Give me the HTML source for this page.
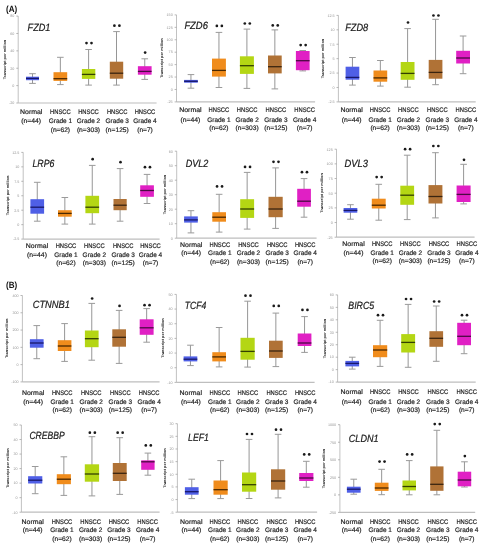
<!DOCTYPE html>
<html><head><meta charset="utf-8"><style>
html,body{margin:0;padding:0;background:#fff;}
svg{display:block;will-change:transform;}
text{font-family:"Liberation Sans", sans-serif;text-rendering:geometricPrecision;}
.ax{stroke:#a8a8a8;stroke-width:0.7;}
.xa{stroke:#bebebe;stroke-width:1.2;}
.tk{stroke:#999;stroke-width:0.7;}
.tl{font-size:3.7px;fill:#969696;text-anchor:end;}
.yl{font-size:3.6px;fill:#222;font-weight:bold;text-anchor:middle;}
.ti{font-size:10.5px;font-style:italic;fill:#1a1a1a;stroke:#111;stroke-width:0.2;}
.wh{stroke:#8a8a8a;stroke-width:0.9;}
.wc{stroke:#9a9a9a;stroke-width:1.0;}
.md{stroke-width:1.3;}
.st{fill:#1a1a1a;}
.xl{font-size:6.6px;fill:#262626;text-anchor:middle;stroke:#262626;stroke-width:0.2;}
.pl{font-size:9px;font-weight:bold;fill:#111;}
</style></head><body>
<svg width="482" height="550" viewBox="0 0 482 550">
<rect width="482" height="550" fill="#fff"/>
<text x="6.1" y="12.4" class="pl" textLength="11.2" lengthAdjust="spacingAndGlyphs">(A)</text>
<text x="6" y="288.4" class="pl" textLength="11.2" lengthAdjust="spacingAndGlyphs">(B)</text>
<g><line x1="18.2" y1="16.1" x2="18.2" y2="103" class="ax"/><line x1="18.2" y1="103" x2="156.6" y2="103" class="xa"/><line x1="16.3" y1="16.1" x2="18.2" y2="16.1" class="tk"/><text x="14.4" y="17.4" class="tl">80</text><line x1="16.3" y1="33.48" x2="18.2" y2="33.48" class="tk"/><text x="14.4" y="34.78" class="tl">60</text><line x1="16.3" y1="50.86" x2="18.2" y2="50.86" class="tk"/><text x="14.4" y="52.16" class="tl">40</text><line x1="16.3" y1="68.24" x2="18.2" y2="68.24" class="tk"/><text x="14.4" y="69.54" class="tl">20</text><line x1="16.3" y1="85.62" x2="18.2" y2="85.62" class="tk"/><text x="14.4" y="86.92" class="tl">0</text><line x1="16.3" y1="103" x2="18.2" y2="103" class="tk"/><text x="14.4" y="104.3" class="tl">-20</text><text transform="translate(5.7,59.5) rotate(-90)" class="yl" textLength="39.5" lengthAdjust="spacingAndGlyphs">Transcript per million</text><text x="27.6" y="31.4" class="ti" textLength="22.85" lengthAdjust="spacingAndGlyphs">FZD1</text><line x1="32.5" y1="73.7" x2="32.5" y2="83.4" class="wh"/><line x1="29.2" y1="73.7" x2="35.8" y2="73.7" class="wc"/><line x1="29.2" y1="83.4" x2="35.8" y2="83.4" class="wc"/><rect x="26" y="76.7" width="13" height="3.5" fill="#4f5fe6"/><line x1="26" y1="78.4" x2="39" y2="78.4" class="md" stroke="#18186a"/><text x="31.2" y="113.9" class="xl" textLength="22.4" lengthAdjust="spacingAndGlyphs">Normal</text><text x="31.2" y="122.9" class="xl" textLength="19.8" lengthAdjust="spacingAndGlyphs">(n=44)</text><line x1="60.35" y1="57.3" x2="60.35" y2="84.6" class="wh"/><line x1="57.05" y1="57.3" x2="63.65" y2="57.3" class="wc"/><line x1="57.05" y1="84.6" x2="63.65" y2="84.6" class="wc"/><rect x="53.5" y="72.2" width="13.7" height="8.7" fill="#f08c1c"/><line x1="53.5" y1="78.7" x2="67.2" y2="78.7" class="md" stroke="#4a2800"/><text x="60.4" y="113.9" class="xl" textLength="20.6" lengthAdjust="spacingAndGlyphs">HNSCC</text><text x="60.4" y="122.9" class="xl" textLength="23.4" lengthAdjust="spacingAndGlyphs">Grade 1</text><text x="60.4" y="131.6" class="xl" textLength="19.4" lengthAdjust="spacingAndGlyphs">(n=62)</text><line x1="88.6" y1="49.5" x2="88.6" y2="85.1" class="wh"/><line x1="85.3" y1="49.5" x2="91.9" y2="49.5" class="wc"/><line x1="85.3" y1="85.1" x2="91.9" y2="85.1" class="wc"/><rect x="81.9" y="69" width="13.4" height="9.9" fill="#b4d614"/><line x1="81.9" y1="74.4" x2="95.3" y2="74.4" class="md" stroke="#334000"/><circle cx="86.5" cy="43.1" r="1.35" class="st"/><circle cx="91.5" cy="43.1" r="1.35" class="st"/><text x="88.5" y="113.9" class="xl" textLength="20.6" lengthAdjust="spacingAndGlyphs">HNSCC</text><text x="88.5" y="122.9" class="xl" textLength="23.4" lengthAdjust="spacingAndGlyphs">Grade 2</text><text x="88.5" y="131.6" class="xl" textLength="23.2" lengthAdjust="spacingAndGlyphs">(n=303)</text><line x1="116.5" y1="31.6" x2="116.5" y2="85.1" class="wh"/><line x1="113.2" y1="31.6" x2="119.8" y2="31.6" class="wc"/><line x1="113.2" y1="85.1" x2="119.8" y2="85.1" class="wc"/><rect x="109.8" y="61.7" width="13.4" height="17" fill="#b07236"/><line x1="109.8" y1="73.2" x2="123.2" y2="73.2" class="md" stroke="#3a2410"/><circle cx="114.4" cy="25.7" r="1.35" class="st"/><circle cx="119.4" cy="25.7" r="1.35" class="st"/><text x="117.2" y="113.9" class="xl" textLength="20.6" lengthAdjust="spacingAndGlyphs">HNSCC</text><text x="117.2" y="122.9" class="xl" textLength="23.4" lengthAdjust="spacingAndGlyphs">Grade 3</text><text x="117.2" y="131.6" class="xl" textLength="23.2" lengthAdjust="spacingAndGlyphs">(n=125)</text><line x1="144.75" y1="58.8" x2="144.75" y2="79.4" class="wh"/><line x1="141.45" y1="58.8" x2="148.05" y2="58.8" class="wc"/><line x1="141.45" y1="79.4" x2="148.05" y2="79.4" class="wc"/><rect x="137.9" y="66.2" width="13.7" height="8.5" fill="#e020c4"/><line x1="137.9" y1="71.4" x2="151.6" y2="71.4" class="md" stroke="#4a0a42"/><circle cx="145.15" cy="52.6" r="1.35" class="st"/><text x="145" y="113.9" class="xl" textLength="20.6" lengthAdjust="spacingAndGlyphs">HNSCC</text><text x="145" y="122.9" class="xl" textLength="23.4" lengthAdjust="spacingAndGlyphs">Grade 4</text><text x="145" y="131.6" class="xl" textLength="15.6" lengthAdjust="spacingAndGlyphs">(n=7)</text></g>
<g><line x1="176.5" y1="14.9" x2="176.5" y2="101.9" class="ax"/><line x1="176.5" y1="101.9" x2="315.1" y2="101.9" class="xa"/><line x1="174.6" y1="14.9" x2="176.5" y2="14.9" class="tk"/><text x="172.7" y="16.2" class="tl">150</text><line x1="174.6" y1="27.33" x2="176.5" y2="27.33" class="tk"/><text x="172.7" y="28.63" class="tl">125</text><line x1="174.6" y1="39.76" x2="176.5" y2="39.76" class="tk"/><text x="172.7" y="41.06" class="tl">100</text><line x1="174.6" y1="52.19" x2="176.5" y2="52.19" class="tk"/><text x="172.7" y="53.49" class="tl">75</text><line x1="174.6" y1="64.61" x2="176.5" y2="64.61" class="tk"/><text x="172.7" y="65.91" class="tl">50</text><line x1="174.6" y1="77.04" x2="176.5" y2="77.04" class="tk"/><text x="172.7" y="78.34" class="tl">25</text><line x1="174.6" y1="89.47" x2="176.5" y2="89.47" class="tk"/><text x="172.7" y="90.77" class="tl">0</text><line x1="174.6" y1="101.9" x2="176.5" y2="101.9" class="tk"/><text x="172.7" y="103.2" class="tl">-25</text><text transform="translate(163.2,58.1) rotate(-90)" class="yl" textLength="39.5" lengthAdjust="spacingAndGlyphs">Transcript per million</text><text x="184.4" y="28.8" class="ti" textLength="23.46" lengthAdjust="spacingAndGlyphs">FZD6</text><line x1="190.95" y1="74.6" x2="190.95" y2="88.2" class="wh"/><line x1="187.65" y1="74.6" x2="194.25" y2="74.6" class="wc"/><line x1="187.65" y1="88.2" x2="194.25" y2="88.2" class="wc"/><rect x="184.1" y="79.9" width="13.7" height="2.8" fill="#4f5fe6"/><line x1="184.1" y1="81.3" x2="197.8" y2="81.3" class="md" stroke="#18186a"/><text x="190.4" y="112.1" class="xl" textLength="22.4" lengthAdjust="spacingAndGlyphs">Normal</text><text x="190.4" y="121.5" class="xl" textLength="19.8" lengthAdjust="spacingAndGlyphs">(n=44)</text><line x1="218.95" y1="32.4" x2="218.95" y2="87.5" class="wh"/><line x1="215.65" y1="32.4" x2="222.25" y2="32.4" class="wc"/><line x1="215.65" y1="87.5" x2="222.25" y2="87.5" class="wc"/><rect x="212" y="58.6" width="13.9" height="18" fill="#f08c1c"/><line x1="212" y1="70.4" x2="225.9" y2="70.4" class="md" stroke="#4a2800"/><circle cx="216.85" cy="25.9" r="1.35" class="st"/><circle cx="221.85" cy="25.9" r="1.35" class="st"/><text x="218.9" y="112.1" class="xl" textLength="20.6" lengthAdjust="spacingAndGlyphs">HNSCC</text><text x="218.9" y="121.5" class="xl" textLength="23.4" lengthAdjust="spacingAndGlyphs">Grade 1</text><text x="218.9" y="130.2" class="xl" textLength="19.4" lengthAdjust="spacingAndGlyphs">(n=62)</text><line x1="246.9" y1="29.1" x2="246.9" y2="88.4" class="wh"/><line x1="243.6" y1="29.1" x2="250.2" y2="29.1" class="wc"/><line x1="243.6" y1="88.4" x2="250.2" y2="88.4" class="wc"/><rect x="239.9" y="56.3" width="14" height="17.6" fill="#b4d614"/><line x1="239.9" y1="65.7" x2="253.9" y2="65.7" class="md" stroke="#334000"/><circle cx="244.8" cy="23.5" r="1.35" class="st"/><circle cx="249.8" cy="23.5" r="1.35" class="st"/><text x="247.1" y="112.1" class="xl" textLength="20.6" lengthAdjust="spacingAndGlyphs">HNSCC</text><text x="247.1" y="121.5" class="xl" textLength="23.4" lengthAdjust="spacingAndGlyphs">Grade 2</text><text x="247.1" y="130.2" class="xl" textLength="23.2" lengthAdjust="spacingAndGlyphs">(n=303)</text><line x1="274.85" y1="29.9" x2="274.85" y2="88.9" class="wh"/><line x1="271.55" y1="29.9" x2="278.15" y2="29.9" class="wc"/><line x1="271.55" y1="88.9" x2="278.15" y2="88.9" class="wc"/><rect x="268" y="55.5" width="13.7" height="17.9" fill="#b07236"/><line x1="268" y1="66.7" x2="281.7" y2="66.7" class="md" stroke="#3a2410"/><circle cx="272.75" cy="25.4" r="1.35" class="st"/><circle cx="277.75" cy="25.4" r="1.35" class="st"/><text x="275.9" y="112.1" class="xl" textLength="20.6" lengthAdjust="spacingAndGlyphs">HNSCC</text><text x="275.9" y="121.5" class="xl" textLength="23.4" lengthAdjust="spacingAndGlyphs">Grade 3</text><text x="275.9" y="130.2" class="xl" textLength="23.2" lengthAdjust="spacingAndGlyphs">(n=125)</text><line x1="302.75" y1="50.5" x2="302.75" y2="70.9" class="wh"/><line x1="299.45" y1="50.5" x2="306.05" y2="50.5" class="wc"/><line x1="299.45" y1="70.9" x2="306.05" y2="70.9" class="wc"/><rect x="295.9" y="51" width="13.7" height="19.2" fill="#e020c4"/><line x1="295.9" y1="60.7" x2="309.6" y2="60.7" class="md" stroke="#4a0a42"/><circle cx="300.65" cy="45.1" r="1.35" class="st"/><circle cx="305.65" cy="45.1" r="1.35" class="st"/><text x="304.6" y="112.1" class="xl" textLength="20.6" lengthAdjust="spacingAndGlyphs">HNSCC</text><text x="304.6" y="121.5" class="xl" textLength="23.4" lengthAdjust="spacingAndGlyphs">Grade 4</text><text x="304.6" y="130.2" class="xl" textLength="15.6" lengthAdjust="spacingAndGlyphs">(n=7)</text></g>
<g><line x1="338.4" y1="15.4" x2="338.4" y2="101.9" class="ax"/><line x1="338.4" y1="101.9" x2="475.7" y2="101.9" class="xa"/><line x1="336.5" y1="15.4" x2="338.4" y2="15.4" class="tk"/><text x="334.6" y="16.7" class="tl">12.5</text><line x1="336.5" y1="29.82" x2="338.4" y2="29.82" class="tk"/><text x="334.6" y="31.12" class="tl">10</text><line x1="336.5" y1="44.23" x2="338.4" y2="44.23" class="tk"/><text x="334.6" y="45.53" class="tl">7.5</text><line x1="336.5" y1="58.65" x2="338.4" y2="58.65" class="tk"/><text x="334.6" y="59.95" class="tl">5</text><line x1="336.5" y1="73.07" x2="338.4" y2="73.07" class="tk"/><text x="334.6" y="74.37" class="tl">2.5</text><line x1="336.5" y1="87.48" x2="338.4" y2="87.48" class="tk"/><text x="334.6" y="88.78" class="tl">0</text><line x1="336.5" y1="101.9" x2="338.4" y2="101.9" class="tk"/><text x="334.6" y="103.2" class="tl">-2.5</text><text transform="translate(324.4,58.6) rotate(-90)" class="yl" textLength="39.5" lengthAdjust="spacingAndGlyphs">Transcript per million</text><text x="345.2" y="30.8" class="ti" textLength="22.96" lengthAdjust="spacingAndGlyphs">FZD8</text><line x1="352.45" y1="57.5" x2="352.45" y2="85.1" class="wh"/><line x1="349.15" y1="57.5" x2="355.75" y2="57.5" class="wc"/><line x1="349.15" y1="85.1" x2="355.75" y2="85.1" class="wc"/><rect x="345.6" y="66.7" width="13.7" height="13" fill="#4f5fe6"/><line x1="345.6" y1="77.4" x2="359.3" y2="77.4" class="md" stroke="#18186a"/><text x="351.6" y="112.1" class="xl" textLength="22.4" lengthAdjust="spacingAndGlyphs">Normal</text><text x="351.6" y="121.5" class="xl" textLength="19.8" lengthAdjust="spacingAndGlyphs">(n=44)</text><line x1="380.35" y1="60.5" x2="380.35" y2="86.1" class="wh"/><line x1="377.05" y1="60.5" x2="383.65" y2="60.5" class="wc"/><line x1="377.05" y1="86.1" x2="383.65" y2="86.1" class="wc"/><rect x="373.5" y="70.5" width="13.7" height="11.2" fill="#f08c1c"/><line x1="373.5" y1="77.9" x2="387.2" y2="77.9" class="md" stroke="#4a2800"/><text x="380.1" y="112.1" class="xl" textLength="20.6" lengthAdjust="spacingAndGlyphs">HNSCC</text><text x="380.1" y="121.5" class="xl" textLength="23.4" lengthAdjust="spacingAndGlyphs">Grade 1</text><text x="380.1" y="130" class="xl" textLength="19.4" lengthAdjust="spacingAndGlyphs">(n=62)</text><line x1="407.6" y1="28.6" x2="407.6" y2="87.2" class="wh"/><line x1="404.3" y1="28.6" x2="410.9" y2="28.6" class="wc"/><line x1="404.3" y1="87.2" x2="410.9" y2="87.2" class="wc"/><rect x="400.7" y="62" width="13.8" height="17.8" fill="#b4d614"/><line x1="400.7" y1="73.4" x2="414.5" y2="73.4" class="md" stroke="#334000"/><circle cx="408" cy="22.5" r="1.35" class="st"/><text x="408.4" y="112.1" class="xl" textLength="20.6" lengthAdjust="spacingAndGlyphs">HNSCC</text><text x="408.4" y="121.5" class="xl" textLength="23.4" lengthAdjust="spacingAndGlyphs">Grade 2</text><text x="408.4" y="130" class="xl" textLength="23.2" lengthAdjust="spacingAndGlyphs">(n=303)</text><line x1="435.55" y1="19.3" x2="435.55" y2="84.7" class="wh"/><line x1="432.25" y1="19.3" x2="438.85" y2="19.3" class="wc"/><line x1="432.25" y1="84.7" x2="438.85" y2="84.7" class="wc"/><rect x="428.7" y="59.9" width="13.7" height="18.8" fill="#b07236"/><line x1="428.7" y1="72.4" x2="442.4" y2="72.4" class="md" stroke="#3a2410"/><circle cx="433.45" cy="15.5" r="1.35" class="st"/><circle cx="438.45" cy="15.5" r="1.35" class="st"/><text x="437.3" y="112.1" class="xl" textLength="20.6" lengthAdjust="spacingAndGlyphs">HNSCC</text><text x="437.3" y="121.5" class="xl" textLength="23.4" lengthAdjust="spacingAndGlyphs">Grade 3</text><text x="437.3" y="130" class="xl" textLength="23.2" lengthAdjust="spacingAndGlyphs">(n=125)</text><line x1="463.1" y1="36" x2="463.1" y2="73.7" class="wh"/><line x1="459.8" y1="36" x2="466.4" y2="36" class="wc"/><line x1="459.8" y1="73.7" x2="466.4" y2="73.7" class="wc"/><rect x="456.2" y="50.8" width="13.8" height="12.7" fill="#e020c4"/><line x1="456.2" y1="58" x2="470" y2="58" class="md" stroke="#4a0a42"/><text x="465.9" y="112.1" class="xl" textLength="20.6" lengthAdjust="spacingAndGlyphs">HNSCC</text><text x="465.9" y="121.5" class="xl" textLength="23.4" lengthAdjust="spacingAndGlyphs">Grade 4</text><text x="465.9" y="130" class="xl" textLength="15.6" lengthAdjust="spacingAndGlyphs">(n=7)</text></g>
<g><line x1="23.2" y1="152.4" x2="23.2" y2="239.1" class="ax"/><line x1="23.2" y1="239.1" x2="159.6" y2="239.1" class="xa"/><line x1="21.3" y1="152.4" x2="23.2" y2="152.4" class="tk"/><text x="19.4" y="153.7" class="tl">12.5</text><line x1="21.3" y1="166.85" x2="23.2" y2="166.85" class="tk"/><text x="19.4" y="168.15" class="tl">10</text><line x1="21.3" y1="181.3" x2="23.2" y2="181.3" class="tk"/><text x="19.4" y="182.6" class="tl">7.5</text><line x1="21.3" y1="195.75" x2="23.2" y2="195.75" class="tk"/><text x="19.4" y="197.05" class="tl">5</text><line x1="21.3" y1="210.2" x2="23.2" y2="210.2" class="tk"/><text x="19.4" y="211.5" class="tl">2.5</text><line x1="21.3" y1="224.65" x2="23.2" y2="224.65" class="tk"/><text x="19.4" y="225.95" class="tl">0</text><line x1="21.3" y1="239.1" x2="23.2" y2="239.1" class="tk"/><text x="19.4" y="240.4" class="tl">-2.5</text><text transform="translate(9,195.4) rotate(-90)" class="yl" textLength="39.5" lengthAdjust="spacingAndGlyphs">Transcript per million</text><text x="32.5" y="167" class="ti" textLength="21.92" lengthAdjust="spacingAndGlyphs">LRP6</text><line x1="37.25" y1="182.3" x2="37.25" y2="221.2" class="wh"/><line x1="33.95" y1="182.3" x2="40.55" y2="182.3" class="wc"/><line x1="33.95" y1="221.2" x2="40.55" y2="221.2" class="wc"/><rect x="30.4" y="199.2" width="13.7" height="14.5" fill="#4f5fe6"/><line x1="30.4" y1="207.2" x2="44.1" y2="207.2" class="md" stroke="#18186a"/><text x="37" y="247.6" class="xl" textLength="22.4" lengthAdjust="spacingAndGlyphs">Normal</text><text x="37" y="256.6" class="xl" textLength="19.8" lengthAdjust="spacingAndGlyphs">(n=44)</text><line x1="64.85" y1="197.5" x2="64.85" y2="224.1" class="wh"/><line x1="61.55" y1="197.5" x2="68.15" y2="197.5" class="wc"/><line x1="61.55" y1="224.1" x2="68.15" y2="224.1" class="wc"/><rect x="58" y="210.2" width="13.7" height="6.5" fill="#f08c1c"/><line x1="58" y1="213.4" x2="71.7" y2="213.4" class="md" stroke="#4a2800"/><text x="66" y="247.6" class="xl" textLength="20.6" lengthAdjust="spacingAndGlyphs">HNSCC</text><text x="66" y="256.6" class="xl" textLength="23.4" lengthAdjust="spacingAndGlyphs">Grade 1</text><text x="66" y="265.3" class="xl" textLength="19.4" lengthAdjust="spacingAndGlyphs">(n=62)</text><line x1="92.25" y1="165.4" x2="92.25" y2="224.1" class="wh"/><line x1="88.95" y1="165.4" x2="95.55" y2="165.4" class="wc"/><line x1="88.95" y1="224.1" x2="95.55" y2="224.1" class="wc"/><rect x="85.4" y="195.8" width="13.7" height="17.4" fill="#b4d614"/><line x1="85.4" y1="207.2" x2="99.1" y2="207.2" class="md" stroke="#334000"/><circle cx="92.65" cy="159.2" r="1.35" class="st"/><text x="94.3" y="247.6" class="xl" textLength="20.6" lengthAdjust="spacingAndGlyphs">HNSCC</text><text x="94.3" y="256.6" class="xl" textLength="23.4" lengthAdjust="spacingAndGlyphs">Grade 2</text><text x="94.3" y="265.3" class="xl" textLength="23.2" lengthAdjust="spacingAndGlyphs">(n=303)</text><line x1="120.1" y1="168.6" x2="120.1" y2="221.2" class="wh"/><line x1="116.8" y1="168.6" x2="123.4" y2="168.6" class="wc"/><line x1="116.8" y1="221.2" x2="123.4" y2="221.2" class="wc"/><rect x="113.5" y="199" width="13.2" height="11.2" fill="#b07236"/><line x1="113.5" y1="205.2" x2="126.7" y2="205.2" class="md" stroke="#3a2410"/><circle cx="120.5" cy="162.2" r="1.35" class="st"/><text x="123.2" y="247.6" class="xl" textLength="20.6" lengthAdjust="spacingAndGlyphs">HNSCC</text><text x="123.2" y="256.6" class="xl" textLength="23.4" lengthAdjust="spacingAndGlyphs">Grade 3</text><text x="123.2" y="265.3" class="xl" textLength="23.2" lengthAdjust="spacingAndGlyphs">(n=125)</text><line x1="147.05" y1="174.4" x2="147.05" y2="203.5" class="wh"/><line x1="143.75" y1="174.4" x2="150.35" y2="174.4" class="wc"/><line x1="143.75" y1="203.5" x2="150.35" y2="203.5" class="wc"/><rect x="140.2" y="185.3" width="13.7" height="11.5" fill="#e020c4"/><line x1="140.2" y1="190.5" x2="153.9" y2="190.5" class="md" stroke="#4a0a42"/><circle cx="144.95" cy="167.2" r="1.35" class="st"/><circle cx="149.95" cy="167.2" r="1.35" class="st"/><text x="150.5" y="247.6" class="xl" textLength="20.6" lengthAdjust="spacingAndGlyphs">HNSCC</text><text x="150.5" y="256.6" class="xl" textLength="23.4" lengthAdjust="spacingAndGlyphs">Grade 4</text><text x="150.5" y="265.3" class="xl" textLength="15.6" lengthAdjust="spacingAndGlyphs">(n=7)</text></g>
<g><line x1="176.7" y1="151.2" x2="176.7" y2="238.2" class="ax"/><line x1="176.7" y1="238.2" x2="316.6" y2="238.2" class="xa"/><line x1="174.8" y1="151.2" x2="176.7" y2="151.2" class="tk"/><text x="172.9" y="152.5" class="tl">60</text><line x1="174.8" y1="165.7" x2="176.7" y2="165.7" class="tk"/><text x="172.9" y="167" class="tl">50</text><line x1="174.8" y1="180.2" x2="176.7" y2="180.2" class="tk"/><text x="172.9" y="181.5" class="tl">40</text><line x1="174.8" y1="194.7" x2="176.7" y2="194.7" class="tk"/><text x="172.9" y="196" class="tl">30</text><line x1="174.8" y1="209.2" x2="176.7" y2="209.2" class="tk"/><text x="172.9" y="210.5" class="tl">20</text><line x1="174.8" y1="223.7" x2="176.7" y2="223.7" class="tk"/><text x="172.9" y="225" class="tl">10</text><line x1="174.8" y1="238.2" x2="176.7" y2="238.2" class="tk"/><text x="172.9" y="239.5" class="tl">0</text><text transform="translate(166,194.5) rotate(-90)" class="yl" textLength="39.5" lengthAdjust="spacingAndGlyphs">Transcript per million</text><text x="185.7" y="166.6" class="ti" textLength="22.68" lengthAdjust="spacingAndGlyphs">DVL2</text><line x1="190.95" y1="210.7" x2="190.95" y2="232.9" class="wh"/><line x1="187.65" y1="210.7" x2="194.25" y2="210.7" class="wc"/><line x1="187.65" y1="232.9" x2="194.25" y2="232.9" class="wc"/><rect x="184.1" y="216.4" width="13.7" height="6.2" fill="#4f5fe6"/><line x1="184.1" y1="219.9" x2="197.8" y2="219.9" class="md" stroke="#18186a"/><text x="191.2" y="246.5" class="xl" textLength="22.4" lengthAdjust="spacingAndGlyphs">Normal</text><text x="191.2" y="255.2" class="xl" textLength="19.8" lengthAdjust="spacingAndGlyphs">(n=44)</text><line x1="219.15" y1="194.3" x2="219.15" y2="232.1" class="wh"/><line x1="215.85" y1="194.3" x2="222.45" y2="194.3" class="wc"/><line x1="215.85" y1="232.1" x2="222.45" y2="232.1" class="wc"/><rect x="212.3" y="212.2" width="13.7" height="9.5" fill="#f08c1c"/><line x1="212.3" y1="217.2" x2="226" y2="217.2" class="md" stroke="#4a2800"/><circle cx="217.05" cy="186.4" r="1.35" class="st"/><circle cx="222.05" cy="186.4" r="1.35" class="st"/><text x="219.8" y="246.5" class="xl" textLength="20.6" lengthAdjust="spacingAndGlyphs">HNSCC</text><text x="219.8" y="255.2" class="xl" textLength="23.4" lengthAdjust="spacingAndGlyphs">Grade 1</text><text x="219.8" y="263.9" class="xl" textLength="19.4" lengthAdjust="spacingAndGlyphs">(n=62)</text><line x1="247.15" y1="172.4" x2="247.15" y2="229.1" class="wh"/><line x1="243.85" y1="172.4" x2="250.45" y2="172.4" class="wc"/><line x1="243.85" y1="229.1" x2="250.45" y2="229.1" class="wc"/><rect x="240.2" y="199.2" width="13.9" height="18.7" fill="#b4d614"/><line x1="240.2" y1="209" x2="254.1" y2="209" class="md" stroke="#334000"/><circle cx="245.05" cy="166.9" r="1.35" class="st"/><circle cx="250.05" cy="166.9" r="1.35" class="st"/><text x="248.5" y="246.5" class="xl" textLength="20.6" lengthAdjust="spacingAndGlyphs">HNSCC</text><text x="248.5" y="255.2" class="xl" textLength="23.4" lengthAdjust="spacingAndGlyphs">Grade 2</text><text x="248.5" y="263.9" class="xl" textLength="23.2" lengthAdjust="spacingAndGlyphs">(n=303)</text><line x1="275.6" y1="167.9" x2="275.6" y2="228.4" class="wh"/><line x1="272.3" y1="167.9" x2="278.9" y2="167.9" class="wc"/><line x1="272.3" y1="228.4" x2="278.9" y2="228.4" class="wc"/><rect x="268.5" y="196.8" width="14.2" height="20.4" fill="#b07236"/><line x1="268.5" y1="209" x2="282.7" y2="209" class="md" stroke="#3a2410"/><circle cx="273.5" cy="161.8" r="1.35" class="st"/><circle cx="278.5" cy="161.8" r="1.35" class="st"/><text x="277.2" y="246.5" class="xl" textLength="20.6" lengthAdjust="spacingAndGlyphs">HNSCC</text><text x="277.2" y="255.2" class="xl" textLength="23.4" lengthAdjust="spacingAndGlyphs">Grade 3</text><text x="277.2" y="263.9" class="xl" textLength="23.2" lengthAdjust="spacingAndGlyphs">(n=125)</text><line x1="304.05" y1="178.6" x2="304.05" y2="217.2" class="wh"/><line x1="300.75" y1="178.6" x2="307.35" y2="178.6" class="wc"/><line x1="300.75" y1="217.2" x2="307.35" y2="217.2" class="wc"/><rect x="297.2" y="188.8" width="13.7" height="17.9" fill="#e020c4"/><line x1="297.2" y1="201.2" x2="310.9" y2="201.2" class="md" stroke="#4a0a42"/><circle cx="301.95" cy="172.2" r="1.35" class="st"/><circle cx="306.95" cy="172.2" r="1.35" class="st"/><text x="305.2" y="246.5" class="xl" textLength="20.6" lengthAdjust="spacingAndGlyphs">HNSCC</text><text x="305.2" y="255.2" class="xl" textLength="23.4" lengthAdjust="spacingAndGlyphs">Grade 4</text><text x="305.2" y="263.9" class="xl" textLength="15.6" lengthAdjust="spacingAndGlyphs">(n=7)</text></g>
<g><line x1="336.5" y1="149.2" x2="336.5" y2="237.2" class="ax"/><line x1="336.5" y1="237.2" x2="474.6" y2="237.2" class="xa"/><line x1="334.6" y1="149.2" x2="336.5" y2="149.2" class="tk"/><text x="332.7" y="150.5" class="tl">125</text><line x1="334.6" y1="163.87" x2="336.5" y2="163.87" class="tk"/><text x="332.7" y="165.17" class="tl">100</text><line x1="334.6" y1="178.53" x2="336.5" y2="178.53" class="tk"/><text x="332.7" y="179.83" class="tl">75</text><line x1="334.6" y1="193.2" x2="336.5" y2="193.2" class="tk"/><text x="332.7" y="194.5" class="tl">50</text><line x1="334.6" y1="207.87" x2="336.5" y2="207.87" class="tk"/><text x="332.7" y="209.17" class="tl">25</text><line x1="334.6" y1="222.53" x2="336.5" y2="222.53" class="tk"/><text x="332.7" y="223.83" class="tl">0</text><line x1="334.6" y1="237.2" x2="336.5" y2="237.2" class="tk"/><text x="332.7" y="238.5" class="tl">-25</text><text transform="translate(322.9,192.9) rotate(-90)" class="yl" textLength="39.5" lengthAdjust="spacingAndGlyphs">Transcript per million</text><text x="344.6" y="166.6" class="ti" textLength="23.43" lengthAdjust="spacingAndGlyphs">DVL3</text><line x1="350.45" y1="204.7" x2="350.45" y2="219.2" class="wh"/><line x1="347.15" y1="204.7" x2="353.75" y2="204.7" class="wc"/><line x1="347.15" y1="219.2" x2="353.75" y2="219.2" class="wc"/><rect x="343.6" y="208" width="13.7" height="4.7" fill="#4f5fe6"/><line x1="343.6" y1="210.4" x2="357.3" y2="210.4" class="md" stroke="#18186a"/><text x="353.5" y="245.9" class="xl" textLength="22.4" lengthAdjust="spacingAndGlyphs">Normal</text><text x="353.5" y="254.9" class="xl" textLength="19.8" lengthAdjust="spacingAndGlyphs">(n=44)</text><line x1="378.75" y1="184.3" x2="378.75" y2="220.2" class="wh"/><line x1="375.45" y1="184.3" x2="382.05" y2="184.3" class="wc"/><line x1="375.45" y1="220.2" x2="382.05" y2="220.2" class="wc"/><rect x="371.8" y="198.7" width="13.9" height="9.8" fill="#f08c1c"/><line x1="371.8" y1="205.2" x2="385.7" y2="205.2" class="md" stroke="#4a2800"/><circle cx="376.65" cy="177.1" r="1.35" class="st"/><circle cx="381.65" cy="177.1" r="1.35" class="st"/><text x="382.2" y="245.9" class="xl" textLength="20.6" lengthAdjust="spacingAndGlyphs">HNSCC</text><text x="382.2" y="254.9" class="xl" textLength="23.4" lengthAdjust="spacingAndGlyphs">Grade 1</text><text x="382.2" y="263.3" class="xl" textLength="19.4" lengthAdjust="spacingAndGlyphs">(n=62)</text><line x1="407.2" y1="155.2" x2="407.2" y2="219.6" class="wh"/><line x1="403.9" y1="155.2" x2="410.5" y2="155.2" class="wc"/><line x1="403.9" y1="219.6" x2="410.5" y2="219.6" class="wc"/><rect x="400.3" y="185.7" width="13.8" height="19.1" fill="#b4d614"/><line x1="400.3" y1="195.2" x2="414.1" y2="195.2" class="md" stroke="#334000"/><circle cx="405.1" cy="149.2" r="1.35" class="st"/><circle cx="410.1" cy="149.2" r="1.35" class="st"/><text x="410.4" y="245.9" class="xl" textLength="20.6" lengthAdjust="spacingAndGlyphs">HNSCC</text><text x="410.4" y="254.9" class="xl" textLength="23.4" lengthAdjust="spacingAndGlyphs">Grade 2</text><text x="410.4" y="263.3" class="xl" textLength="23.2" lengthAdjust="spacingAndGlyphs">(n=303)</text><line x1="435.45" y1="152.7" x2="435.45" y2="217.9" class="wh"/><line x1="432.15" y1="152.7" x2="438.75" y2="152.7" class="wc"/><line x1="432.15" y1="217.9" x2="438.75" y2="217.9" class="wc"/><rect x="428.5" y="185.1" width="13.9" height="18.4" fill="#b07236"/><line x1="428.5" y1="196.5" x2="442.4" y2="196.5" class="md" stroke="#3a2410"/><circle cx="433.35" cy="146" r="1.35" class="st"/><circle cx="438.35" cy="146" r="1.35" class="st"/><text x="439" y="245.9" class="xl" textLength="20.6" lengthAdjust="spacingAndGlyphs">HNSCC</text><text x="439" y="254.9" class="xl" textLength="23.4" lengthAdjust="spacingAndGlyphs">Grade 3</text><text x="439" y="263.3" class="xl" textLength="23.2" lengthAdjust="spacingAndGlyphs">(n=125)</text><line x1="463.6" y1="164.3" x2="463.6" y2="203.9" class="wh"/><line x1="460.3" y1="164.3" x2="466.9" y2="164.3" class="wc"/><line x1="460.3" y1="203.9" x2="466.9" y2="203.9" class="wc"/><rect x="456.6" y="185.5" width="14" height="16.5" fill="#e020c4"/><line x1="456.6" y1="194.4" x2="470.6" y2="194.4" class="md" stroke="#4a0a42"/><circle cx="464" cy="159.8" r="1.35" class="st"/><text x="466.9" y="245.9" class="xl" textLength="20.6" lengthAdjust="spacingAndGlyphs">HNSCC</text><text x="466.9" y="254.9" class="xl" textLength="23.4" lengthAdjust="spacingAndGlyphs">Grade 4</text><text x="466.9" y="263.3" class="xl" textLength="15.6" lengthAdjust="spacingAndGlyphs">(n=7)</text></g>
<g><line x1="22.4" y1="295.5" x2="22.4" y2="381.9" class="ax"/><line x1="22.4" y1="381.9" x2="159.6" y2="381.9" class="xa"/><line x1="20.5" y1="295.5" x2="22.4" y2="295.5" class="tk"/><text x="18.6" y="296.8" class="tl">400</text><line x1="20.5" y1="312.78" x2="22.4" y2="312.78" class="tk"/><text x="18.6" y="314.08" class="tl">300</text><line x1="20.5" y1="330.06" x2="22.4" y2="330.06" class="tk"/><text x="18.6" y="331.36" class="tl">200</text><line x1="20.5" y1="347.34" x2="22.4" y2="347.34" class="tk"/><text x="18.6" y="348.64" class="tl">100</text><line x1="20.5" y1="364.62" x2="22.4" y2="364.62" class="tk"/><text x="18.6" y="365.92" class="tl">0</text><line x1="20.5" y1="381.9" x2="22.4" y2="381.9" class="tk"/><text x="18.6" y="383.2" class="tl">-100</text><text transform="translate(8,338.3) rotate(-90)" class="yl" textLength="39.5" lengthAdjust="spacingAndGlyphs">Transcript per million</text><text x="32.7" y="308.2" class="ti" textLength="37.25" lengthAdjust="spacingAndGlyphs">CTNNB1</text><line x1="36.75" y1="325.6" x2="36.75" y2="358.7" class="wh"/><line x1="33.45" y1="325.6" x2="40.05" y2="325.6" class="wc"/><line x1="33.45" y1="358.7" x2="40.05" y2="358.7" class="wc"/><rect x="29.9" y="339.2" width="13.7" height="8.5" fill="#4f5fe6"/><line x1="29.9" y1="343" x2="43.6" y2="343" class="md" stroke="#18186a"/><text x="33.1" y="394.5" class="xl" textLength="22.4" lengthAdjust="spacingAndGlyphs">Normal</text><text x="33.1" y="403.7" class="xl" textLength="19.8" lengthAdjust="spacingAndGlyphs">(n=44)</text><line x1="64.6" y1="323.6" x2="64.6" y2="361.4" class="wh"/><line x1="61.3" y1="323.6" x2="67.9" y2="323.6" class="wc"/><line x1="61.3" y1="361.4" x2="67.9" y2="361.4" class="wc"/><rect x="57.8" y="340.2" width="13.6" height="10.8" fill="#f08c1c"/><line x1="57.8" y1="346" x2="71.4" y2="346" class="md" stroke="#4a2800"/><text x="62.2" y="394.5" class="xl" textLength="20.6" lengthAdjust="spacingAndGlyphs">HNSCC</text><text x="62.2" y="403.7" class="xl" textLength="23.4" lengthAdjust="spacingAndGlyphs">Grade 1</text><text x="62.2" y="412.4" class="xl" textLength="19.4" lengthAdjust="spacingAndGlyphs">(n=62)</text><line x1="91.75" y1="303.4" x2="91.75" y2="360.2" class="wh"/><line x1="88.45" y1="303.4" x2="95.05" y2="303.4" class="wc"/><line x1="88.45" y1="360.2" x2="95.05" y2="360.2" class="wc"/><rect x="84.9" y="330.5" width="13.7" height="16.7" fill="#b4d614"/><line x1="84.9" y1="338.7" x2="98.6" y2="338.7" class="md" stroke="#334000"/><circle cx="92.15" cy="298.5" r="1.35" class="st"/><text x="91.2" y="394.5" class="xl" textLength="20.6" lengthAdjust="spacingAndGlyphs">HNSCC</text><text x="91.2" y="403.7" class="xl" textLength="23.4" lengthAdjust="spacingAndGlyphs">Grade 2</text><text x="91.2" y="412.4" class="xl" textLength="23.2" lengthAdjust="spacingAndGlyphs">(n=303)</text><line x1="119.15" y1="310.4" x2="119.15" y2="363.4" class="wh"/><line x1="115.85" y1="310.4" x2="122.45" y2="310.4" class="wc"/><line x1="115.85" y1="363.4" x2="122.45" y2="363.4" class="wc"/><rect x="112.3" y="329.3" width="13.7" height="17.4" fill="#b07236"/><line x1="112.3" y1="337.3" x2="126" y2="337.3" class="md" stroke="#3a2410"/><circle cx="119.55" cy="305.9" r="1.35" class="st"/><text x="120.3" y="394.5" class="xl" textLength="20.6" lengthAdjust="spacingAndGlyphs">HNSCC</text><text x="120.3" y="403.7" class="xl" textLength="23.4" lengthAdjust="spacingAndGlyphs">Grade 3</text><text x="120.3" y="412.4" class="xl" textLength="23.2" lengthAdjust="spacingAndGlyphs">(n=125)</text><line x1="146.65" y1="308.6" x2="146.65" y2="342.2" class="wh"/><line x1="143.35" y1="308.6" x2="149.95" y2="308.6" class="wc"/><line x1="143.35" y1="342.2" x2="149.95" y2="342.2" class="wc"/><rect x="139.7" y="319.3" width="13.9" height="15.5" fill="#e020c4"/><line x1="139.7" y1="327.8" x2="153.6" y2="327.8" class="md" stroke="#4a0a42"/><circle cx="144.55" cy="305.2" r="1.35" class="st"/><circle cx="149.55" cy="305.2" r="1.35" class="st"/><text x="149.1" y="394.5" class="xl" textLength="20.6" lengthAdjust="spacingAndGlyphs">HNSCC</text><text x="149.1" y="403.7" class="xl" textLength="23.4" lengthAdjust="spacingAndGlyphs">Grade 4</text><text x="149.1" y="412.4" class="xl" textLength="15.6" lengthAdjust="spacingAndGlyphs">(n=7)</text></g>
<g><line x1="176.4" y1="294.4" x2="176.4" y2="382.4" class="ax"/><line x1="176.4" y1="382.4" x2="314.6" y2="382.4" class="xa"/><line x1="174.5" y1="294.4" x2="176.4" y2="294.4" class="tk"/><text x="172.6" y="295.7" class="tl">50</text><line x1="174.5" y1="309.07" x2="176.4" y2="309.07" class="tk"/><text x="172.6" y="310.37" class="tl">40</text><line x1="174.5" y1="323.73" x2="176.4" y2="323.73" class="tk"/><text x="172.6" y="325.03" class="tl">30</text><line x1="174.5" y1="338.4" x2="176.4" y2="338.4" class="tk"/><text x="172.6" y="339.7" class="tl">20</text><line x1="174.5" y1="353.07" x2="176.4" y2="353.07" class="tk"/><text x="172.6" y="354.37" class="tl">10</text><line x1="174.5" y1="367.73" x2="176.4" y2="367.73" class="tk"/><text x="172.6" y="369.03" class="tl">0</text><line x1="174.5" y1="382.4" x2="176.4" y2="382.4" class="tk"/><text x="172.6" y="383.7" class="tl">-10</text><text transform="translate(164.1,338) rotate(-90)" class="yl" textLength="39.5" lengthAdjust="spacingAndGlyphs">Transcript per million</text><text x="184.8" y="309.4" class="ti" textLength="21.61" lengthAdjust="spacingAndGlyphs">TCF4</text><line x1="190.45" y1="345.2" x2="190.45" y2="365.6" class="wh"/><line x1="187.15" y1="345.2" x2="193.75" y2="345.2" class="wc"/><line x1="187.15" y1="365.6" x2="193.75" y2="365.6" class="wc"/><rect x="183.6" y="356.4" width="13.7" height="5" fill="#4f5fe6"/><line x1="183.6" y1="359.2" x2="197.3" y2="359.2" class="md" stroke="#18186a"/><text x="190.8" y="394.5" class="xl" textLength="22.4" lengthAdjust="spacingAndGlyphs">Normal</text><text x="190.8" y="403.7" class="xl" textLength="19.8" lengthAdjust="spacingAndGlyphs">(n=44)</text><line x1="219.15" y1="327.5" x2="219.15" y2="366.9" class="wh"/><line x1="215.85" y1="327.5" x2="222.45" y2="327.5" class="wc"/><line x1="215.85" y1="366.9" x2="222.45" y2="366.9" class="wc"/><rect x="212.3" y="352.2" width="13.7" height="9.2" fill="#f08c1c"/><line x1="212.3" y1="356.9" x2="226" y2="356.9" class="md" stroke="#4a2800"/><text x="219.8" y="394.5" class="xl" textLength="20.6" lengthAdjust="spacingAndGlyphs">HNSCC</text><text x="219.8" y="403.7" class="xl" textLength="23.4" lengthAdjust="spacingAndGlyphs">Grade 1</text><text x="219.8" y="412.4" class="xl" textLength="19.4" lengthAdjust="spacingAndGlyphs">(n=62)</text><line x1="247.6" y1="301.2" x2="247.6" y2="367.1" class="wh"/><line x1="244.3" y1="301.2" x2="250.9" y2="301.2" class="wc"/><line x1="244.3" y1="367.1" x2="250.9" y2="367.1" class="wc"/><rect x="240.5" y="337.8" width="14.2" height="21.9" fill="#b4d614"/><line x1="240.5" y1="351.4" x2="254.7" y2="351.4" class="md" stroke="#334000"/><circle cx="245.5" cy="295.7" r="1.35" class="st"/><circle cx="250.5" cy="295.7" r="1.35" class="st"/><text x="247.8" y="394.5" class="xl" textLength="20.6" lengthAdjust="spacingAndGlyphs">HNSCC</text><text x="247.8" y="403.7" class="xl" textLength="23.4" lengthAdjust="spacingAndGlyphs">Grade 2</text><text x="247.8" y="412.4" class="xl" textLength="23.2" lengthAdjust="spacingAndGlyphs">(n=303)</text><line x1="275.85" y1="313.1" x2="275.85" y2="366.6" class="wh"/><line x1="272.55" y1="313.1" x2="279.15" y2="313.1" class="wc"/><line x1="272.55" y1="366.6" x2="279.15" y2="366.6" class="wc"/><rect x="269" y="340.7" width="13.7" height="17.2" fill="#b07236"/><line x1="269" y1="351" x2="282.7" y2="351" class="md" stroke="#3a2410"/><circle cx="273.75" cy="305.9" r="1.35" class="st"/><circle cx="278.75" cy="305.9" r="1.35" class="st"/><text x="276.7" y="394.5" class="xl" textLength="20.6" lengthAdjust="spacingAndGlyphs">HNSCC</text><text x="276.7" y="403.7" class="xl" textLength="23.4" lengthAdjust="spacingAndGlyphs">Grade 3</text><text x="276.7" y="412.4" class="xl" textLength="23.2" lengthAdjust="spacingAndGlyphs">(n=125)</text><line x1="304.55" y1="316.6" x2="304.55" y2="352.4" class="wh"/><line x1="301.25" y1="316.6" x2="307.85" y2="316.6" class="wc"/><line x1="301.25" y1="352.4" x2="307.85" y2="352.4" class="wc"/><rect x="297.7" y="333.5" width="13.7" height="12.5" fill="#e020c4"/><line x1="297.7" y1="343" x2="311.4" y2="343" class="md" stroke="#4a0a42"/><circle cx="302.45" cy="309.9" r="1.35" class="st"/><circle cx="307.45" cy="309.9" r="1.35" class="st"/><text x="305.2" y="394.5" class="xl" textLength="20.6" lengthAdjust="spacingAndGlyphs">HNSCC</text><text x="305.2" y="403.7" class="xl" textLength="23.4" lengthAdjust="spacingAndGlyphs">Grade 4</text><text x="305.2" y="412.4" class="xl" textLength="15.6" lengthAdjust="spacingAndGlyphs">(n=7)</text></g>
<g><line x1="337.6" y1="294.9" x2="337.6" y2="382.1" class="ax"/><line x1="337.6" y1="382.1" x2="475.7" y2="382.1" class="xa"/><line x1="335.7" y1="294.9" x2="337.6" y2="294.9" class="tk"/><text x="333.8" y="296.2" class="tl">60</text><line x1="335.7" y1="307.36" x2="337.6" y2="307.36" class="tk"/><text x="333.8" y="308.66" class="tl">50</text><line x1="335.7" y1="319.81" x2="337.6" y2="319.81" class="tk"/><text x="333.8" y="321.11" class="tl">40</text><line x1="335.7" y1="332.27" x2="337.6" y2="332.27" class="tk"/><text x="333.8" y="333.57" class="tl">30</text><line x1="335.7" y1="344.73" x2="337.6" y2="344.73" class="tk"/><text x="333.8" y="346.03" class="tl">20</text><line x1="335.7" y1="357.19" x2="337.6" y2="357.19" class="tk"/><text x="333.8" y="358.49" class="tl">10</text><line x1="335.7" y1="369.64" x2="337.6" y2="369.64" class="tk"/><text x="333.8" y="370.94" class="tl">0</text><line x1="335.7" y1="382.1" x2="337.6" y2="382.1" class="tk"/><text x="333.8" y="383.4" class="tl">-10</text><text transform="translate(325.6,338.5) rotate(-90)" class="yl" textLength="39.5" lengthAdjust="spacingAndGlyphs">Transcript per million</text><text x="348.3" y="309.2" class="ti" textLength="25.87" lengthAdjust="spacingAndGlyphs">BIRC5</text><line x1="352.25" y1="357.2" x2="352.25" y2="369.1" class="wh"/><line x1="348.95" y1="357.2" x2="355.55" y2="357.2" class="wc"/><line x1="348.95" y1="369.1" x2="355.55" y2="369.1" class="wc"/><rect x="345.4" y="360.9" width="13.7" height="5.5" fill="#4f5fe6"/><line x1="345.4" y1="363.4" x2="359.1" y2="363.4" class="md" stroke="#18186a"/><text x="351.7" y="394.3" class="xl" textLength="22.4" lengthAdjust="spacingAndGlyphs">Normal</text><text x="351.7" y="403.7" class="xl" textLength="19.8" lengthAdjust="spacingAndGlyphs">(n=44)</text><line x1="380.1" y1="320.3" x2="380.1" y2="366.4" class="wh"/><line x1="376.8" y1="320.3" x2="383.4" y2="320.3" class="wc"/><line x1="376.8" y1="366.4" x2="383.4" y2="366.4" class="wc"/><rect x="373" y="345.2" width="14.2" height="12" fill="#f08c1c"/><line x1="373" y1="350" x2="387.2" y2="350" class="md" stroke="#4a2800"/><circle cx="378" cy="315.2" r="1.35" class="st"/><circle cx="383" cy="315.2" r="1.35" class="st"/><text x="380.2" y="394.3" class="xl" textLength="20.6" lengthAdjust="spacingAndGlyphs">HNSCC</text><text x="380.2" y="403.7" class="xl" textLength="23.4" lengthAdjust="spacingAndGlyphs">Grade 1</text><text x="380.2" y="412.1" class="xl" textLength="19.4" lengthAdjust="spacingAndGlyphs">(n=62)</text><line x1="408.15" y1="304.4" x2="408.15" y2="367.3" class="wh"/><line x1="404.85" y1="304.4" x2="411.45" y2="304.4" class="wc"/><line x1="404.85" y1="367.3" x2="411.45" y2="367.3" class="wc"/><rect x="401.2" y="334.1" width="13.9" height="18.4" fill="#b4d614"/><line x1="401.2" y1="342.4" x2="415.1" y2="342.4" class="md" stroke="#334000"/><circle cx="406.05" cy="299" r="1.35" class="st"/><circle cx="411.05" cy="299" r="1.35" class="st"/><text x="408.5" y="394.3" class="xl" textLength="20.6" lengthAdjust="spacingAndGlyphs">HNSCC</text><text x="408.5" y="403.7" class="xl" textLength="23.4" lengthAdjust="spacingAndGlyphs">Grade 2</text><text x="408.5" y="412.1" class="xl" textLength="23.2" lengthAdjust="spacingAndGlyphs">(n=303)</text><line x1="436.25" y1="306" x2="436.25" y2="361.3" class="wh"/><line x1="432.95" y1="306" x2="439.55" y2="306" class="wc"/><line x1="432.95" y1="361.3" x2="439.55" y2="361.3" class="wc"/><rect x="429.4" y="331.2" width="13.7" height="15.6" fill="#b07236"/><line x1="429.4" y1="338.3" x2="443.1" y2="338.3" class="md" stroke="#3a2410"/><circle cx="434.15" cy="301.5" r="1.35" class="st"/><circle cx="439.15" cy="301.5" r="1.35" class="st"/><text x="437.8" y="394.3" class="xl" textLength="20.6" lengthAdjust="spacingAndGlyphs">HNSCC</text><text x="437.8" y="403.7" class="xl" textLength="23.4" lengthAdjust="spacingAndGlyphs">Grade 3</text><text x="437.8" y="412.1" class="xl" textLength="23.2" lengthAdjust="spacingAndGlyphs">(n=125)</text><line x1="464.1" y1="320.2" x2="464.1" y2="353.7" class="wh"/><line x1="460.8" y1="320.2" x2="467.4" y2="320.2" class="wc"/><line x1="460.8" y1="353.7" x2="467.4" y2="353.7" class="wc"/><rect x="457.2" y="322.8" width="13.8" height="22.4" fill="#e020c4"/><line x1="457.2" y1="336.3" x2="471" y2="336.3" class="md" stroke="#4a0a42"/><circle cx="462" cy="315.2" r="1.35" class="st"/><circle cx="467" cy="315.2" r="1.35" class="st"/><text x="466.7" y="394.3" class="xl" textLength="20.6" lengthAdjust="spacingAndGlyphs">HNSCC</text><text x="466.7" y="403.7" class="xl" textLength="23.4" lengthAdjust="spacingAndGlyphs">Grade 4</text><text x="466.7" y="412.1" class="xl" textLength="15.6" lengthAdjust="spacingAndGlyphs">(n=7)</text></g>
<g><line x1="21.4" y1="425" x2="21.4" y2="512.2" class="ax"/><line x1="21.4" y1="512.2" x2="159.6" y2="512.2" class="xa"/><line x1="19.5" y1="425" x2="21.4" y2="425" class="tk"/><text x="17.6" y="426.3" class="tl">50</text><line x1="19.5" y1="439.53" x2="21.4" y2="439.53" class="tk"/><text x="17.6" y="440.83" class="tl">40</text><line x1="19.5" y1="454.07" x2="21.4" y2="454.07" class="tk"/><text x="17.6" y="455.37" class="tl">30</text><line x1="19.5" y1="468.6" x2="21.4" y2="468.6" class="tk"/><text x="17.6" y="469.9" class="tl">20</text><line x1="19.5" y1="483.13" x2="21.4" y2="483.13" class="tk"/><text x="17.6" y="484.43" class="tl">10</text><line x1="19.5" y1="497.67" x2="21.4" y2="497.67" class="tk"/><text x="17.6" y="498.97" class="tl">0</text><line x1="19.5" y1="512.2" x2="21.4" y2="512.2" class="tk"/><text x="17.6" y="513.5" class="tl">-10</text><text transform="translate(8.8,468.1) rotate(-90)" class="yl" textLength="39.5" lengthAdjust="spacingAndGlyphs">Transcript per million</text><text x="29.4" y="439.4" class="ti" textLength="35.21" lengthAdjust="spacingAndGlyphs">CREBBP</text><line x1="35.2" y1="466.5" x2="35.2" y2="493.7" class="wh"/><line x1="31.9" y1="466.5" x2="38.5" y2="466.5" class="wc"/><line x1="31.9" y1="493.7" x2="38.5" y2="493.7" class="wc"/><rect x="28.1" y="476.2" width="14.2" height="7.3" fill="#4f5fe6"/><line x1="28.1" y1="480.2" x2="42.3" y2="480.2" class="md" stroke="#18186a"/><text x="32.7" y="523.5" class="xl" textLength="22.4" lengthAdjust="spacingAndGlyphs">Normal</text><text x="32.7" y="532.2" class="xl" textLength="19.8" lengthAdjust="spacingAndGlyphs">(n=44)</text><line x1="63.85" y1="456.8" x2="63.85" y2="495.4" class="wh"/><line x1="60.55" y1="456.8" x2="67.15" y2="456.8" class="wc"/><line x1="60.55" y1="495.4" x2="67.15" y2="495.4" class="wc"/><rect x="56.8" y="474.2" width="14.1" height="10" fill="#f08c1c"/><line x1="56.8" y1="479.2" x2="70.9" y2="479.2" class="md" stroke="#4a2800"/><text x="62" y="523.5" class="xl" textLength="20.6" lengthAdjust="spacingAndGlyphs">HNSCC</text><text x="62" y="532.2" class="xl" textLength="23.4" lengthAdjust="spacingAndGlyphs">Grade 1</text><text x="62" y="540.9" class="xl" textLength="19.4" lengthAdjust="spacingAndGlyphs">(n=62)</text><line x1="91.95" y1="436.7" x2="91.95" y2="495.9" class="wh"/><line x1="88.65" y1="436.7" x2="95.25" y2="436.7" class="wc"/><line x1="88.65" y1="495.9" x2="95.25" y2="495.9" class="wc"/><rect x="84.8" y="464.3" width="14.3" height="17.4" fill="#b4d614"/><line x1="84.8" y1="474" x2="99.1" y2="474" class="md" stroke="#334000"/><circle cx="89.85" cy="432.7" r="1.35" class="st"/><circle cx="94.85" cy="432.7" r="1.35" class="st"/><text x="90.6" y="523.5" class="xl" textLength="20.6" lengthAdjust="spacingAndGlyphs">HNSCC</text><text x="90.6" y="532.2" class="xl" textLength="23.4" lengthAdjust="spacingAndGlyphs">Grade 2</text><text x="90.6" y="540.9" class="xl" textLength="23.2" lengthAdjust="spacingAndGlyphs">(n=303)</text><line x1="119.75" y1="437.7" x2="119.75" y2="494.4" class="wh"/><line x1="116.45" y1="437.7" x2="123.05" y2="437.7" class="wc"/><line x1="116.45" y1="494.4" x2="123.05" y2="494.4" class="wc"/><rect x="112.8" y="463" width="13.9" height="18" fill="#b07236"/><line x1="112.8" y1="473.3" x2="126.7" y2="473.3" class="md" stroke="#3a2410"/><circle cx="117.65" cy="432.7" r="1.35" class="st"/><circle cx="122.65" cy="432.7" r="1.35" class="st"/><text x="119" y="523.5" class="xl" textLength="20.6" lengthAdjust="spacingAndGlyphs">HNSCC</text><text x="119" y="532.2" class="xl" textLength="23.4" lengthAdjust="spacingAndGlyphs">Grade 3</text><text x="119" y="540.9" class="xl" textLength="23.2" lengthAdjust="spacingAndGlyphs">(n=125)</text><line x1="147.9" y1="453.1" x2="147.9" y2="475.2" class="wh"/><line x1="144.6" y1="453.1" x2="151.2" y2="453.1" class="wc"/><line x1="144.6" y1="475.2" x2="151.2" y2="475.2" class="wc"/><rect x="141.2" y="460.3" width="13.4" height="9.5" fill="#e020c4"/><line x1="141.2" y1="461.8" x2="154.6" y2="461.8" class="md" stroke="#4a0a42"/><circle cx="145.8" cy="445.4" r="1.35" class="st"/><circle cx="150.8" cy="445.4" r="1.35" class="st"/><text x="147.6" y="523.5" class="xl" textLength="20.6" lengthAdjust="spacingAndGlyphs">HNSCC</text><text x="147.6" y="532.2" class="xl" textLength="23.4" lengthAdjust="spacingAndGlyphs">Grade 4</text><text x="147.6" y="540.9" class="xl" textLength="15.6" lengthAdjust="spacingAndGlyphs">(n=7)</text></g>
<g><line x1="177.4" y1="423.7" x2="177.4" y2="512.2" class="ax"/><line x1="177.4" y1="512.2" x2="317.1" y2="512.2" class="xa"/><line x1="175.5" y1="423.7" x2="177.4" y2="423.7" class="tk"/><text x="173.6" y="425" class="tl">30</text><line x1="175.5" y1="436.34" x2="177.4" y2="436.34" class="tk"/><text x="173.6" y="437.64" class="tl">25</text><line x1="175.5" y1="448.99" x2="177.4" y2="448.99" class="tk"/><text x="173.6" y="450.29" class="tl">20</text><line x1="175.5" y1="461.63" x2="177.4" y2="461.63" class="tk"/><text x="173.6" y="462.93" class="tl">15</text><line x1="175.5" y1="474.27" x2="177.4" y2="474.27" class="tk"/><text x="173.6" y="475.57" class="tl">10</text><line x1="175.5" y1="486.91" x2="177.4" y2="486.91" class="tk"/><text x="173.6" y="488.21" class="tl">5</text><line x1="175.5" y1="499.56" x2="177.4" y2="499.56" class="tk"/><text x="173.6" y="500.86" class="tl">0</text><line x1="175.5" y1="512.2" x2="177.4" y2="512.2" class="tk"/><text x="173.6" y="513.5" class="tl">-5</text><text transform="translate(165.6,468) rotate(-90)" class="yl" textLength="39.5" lengthAdjust="spacingAndGlyphs">Transcript per million</text><text x="188.1" y="441.2" class="ti" textLength="20.9" lengthAdjust="spacingAndGlyphs">LEF1</text><line x1="191.75" y1="479.2" x2="191.75" y2="498.6" class="wh"/><line x1="188.45" y1="479.2" x2="195.05" y2="479.2" class="wc"/><line x1="188.45" y1="498.6" x2="195.05" y2="498.6" class="wc"/><rect x="184.9" y="487.2" width="13.7" height="7.5" fill="#4f5fe6"/><line x1="184.9" y1="491.7" x2="198.6" y2="491.7" class="md" stroke="#18186a"/><text x="191.3" y="523.5" class="xl" textLength="22.4" lengthAdjust="spacingAndGlyphs">Normal</text><text x="191.3" y="532.2" class="xl" textLength="19.8" lengthAdjust="spacingAndGlyphs">(n=44)</text><line x1="220.6" y1="460.6" x2="220.6" y2="498.6" class="wh"/><line x1="217.3" y1="460.6" x2="223.9" y2="460.6" class="wc"/><line x1="217.3" y1="498.6" x2="223.9" y2="498.6" class="wc"/><rect x="213.5" y="480.5" width="14.2" height="14.2" fill="#f08c1c"/><line x1="213.5" y1="489.7" x2="227.7" y2="489.7" class="md" stroke="#4a2800"/><text x="219.8" y="523.5" class="xl" textLength="20.6" lengthAdjust="spacingAndGlyphs">HNSCC</text><text x="219.8" y="532.2" class="xl" textLength="23.4" lengthAdjust="spacingAndGlyphs">Grade 1</text><text x="219.8" y="540.9" class="xl" textLength="19.4" lengthAdjust="spacingAndGlyphs">(n=62)</text><line x1="249.1" y1="439.4" x2="249.1" y2="498.5" class="wh"/><line x1="245.8" y1="439.4" x2="252.4" y2="439.4" class="wc"/><line x1="245.8" y1="498.5" x2="252.4" y2="498.5" class="wc"/><rect x="242" y="472.5" width="14.2" height="19.2" fill="#b4d614"/><line x1="242" y1="484.7" x2="256.2" y2="484.7" class="md" stroke="#334000"/><circle cx="247" cy="434" r="1.35" class="st"/><circle cx="252" cy="434" r="1.35" class="st"/><text x="247.8" y="523.5" class="xl" textLength="20.6" lengthAdjust="spacingAndGlyphs">HNSCC</text><text x="247.8" y="532.2" class="xl" textLength="23.4" lengthAdjust="spacingAndGlyphs">Grade 2</text><text x="247.8" y="540.9" class="xl" textLength="23.2" lengthAdjust="spacingAndGlyphs">(n=303)</text><line x1="278.1" y1="434.3" x2="278.1" y2="497.9" class="wh"/><line x1="274.8" y1="434.3" x2="281.4" y2="434.3" class="wc"/><line x1="274.8" y1="497.9" x2="281.4" y2="497.9" class="wc"/><rect x="271" y="469.3" width="14.2" height="20.4" fill="#b07236"/><line x1="271" y1="481" x2="285.2" y2="481" class="md" stroke="#3a2410"/><circle cx="276" cy="429.7" r="1.35" class="st"/><circle cx="281" cy="429.7" r="1.35" class="st"/><text x="276.7" y="523.5" class="xl" textLength="20.6" lengthAdjust="spacingAndGlyphs">HNSCC</text><text x="276.7" y="532.2" class="xl" textLength="23.4" lengthAdjust="spacingAndGlyphs">Grade 3</text><text x="276.7" y="540.9" class="xl" textLength="23.2" lengthAdjust="spacingAndGlyphs">(n=125)</text><line x1="306.3" y1="461.3" x2="306.3" y2="487.2" class="wh"/><line x1="303" y1="461.3" x2="309.6" y2="461.3" class="wc"/><line x1="303" y1="487.2" x2="309.6" y2="487.2" class="wc"/><rect x="299.2" y="473" width="14.2" height="8" fill="#e020c4"/><line x1="299.2" y1="478" x2="313.4" y2="478" class="md" stroke="#4a0a42"/><circle cx="304.2" cy="454.4" r="1.35" class="st"/><circle cx="309.2" cy="454.4" r="1.35" class="st"/><text x="305.2" y="523.5" class="xl" textLength="20.6" lengthAdjust="spacingAndGlyphs">HNSCC</text><text x="305.2" y="532.2" class="xl" textLength="23.4" lengthAdjust="spacingAndGlyphs">Grade 4</text><text x="305.2" y="540.9" class="xl" textLength="15.6" lengthAdjust="spacingAndGlyphs">(n=7)</text></g>
<g><line x1="339.9" y1="424.7" x2="339.9" y2="512.4" class="ax"/><line x1="339.9" y1="512.4" x2="475.2" y2="512.4" class="xa"/><line x1="338" y1="424.7" x2="339.9" y2="424.7" class="tk"/><text x="336.1" y="426" class="tl">1000</text><line x1="338" y1="442.24" x2="339.9" y2="442.24" class="tk"/><text x="336.1" y="443.54" class="tl">750</text><line x1="338" y1="459.78" x2="339.9" y2="459.78" class="tk"/><text x="336.1" y="461.08" class="tl">500</text><line x1="338" y1="477.32" x2="339.9" y2="477.32" class="tk"/><text x="336.1" y="478.62" class="tl">250</text><line x1="338" y1="494.86" x2="339.9" y2="494.86" class="tk"/><text x="336.1" y="496.16" class="tl">0</text><line x1="338" y1="512.4" x2="339.9" y2="512.4" class="tk"/><text x="336.1" y="513.7" class="tl">-250</text><text transform="translate(324.5,468.5) rotate(-90)" class="yl" textLength="39.5" lengthAdjust="spacingAndGlyphs">Transcript per million</text><text x="348.8" y="442.2" class="ti" textLength="29.76" lengthAdjust="spacingAndGlyphs">CLDN1</text><line x1="353.75" y1="479.2" x2="353.75" y2="494.2" class="wh"/><line x1="350.45" y1="479.2" x2="357.05" y2="479.2" class="wc"/><line x1="350.45" y1="494.2" x2="357.05" y2="494.2" class="wc"/><rect x="346.9" y="486.7" width="13.7" height="6" fill="#4f5fe6"/><line x1="346.9" y1="489.2" x2="360.6" y2="489.2" class="md" stroke="#18186a"/><text x="351.7" y="523.5" class="xl" textLength="22.4" lengthAdjust="spacingAndGlyphs">Normal</text><text x="351.7" y="532.2" class="xl" textLength="19.8" lengthAdjust="spacingAndGlyphs">(n=44)</text><line x1="381.65" y1="469.3" x2="381.65" y2="494.7" class="wh"/><line x1="378.35" y1="469.3" x2="384.95" y2="469.3" class="wc"/><line x1="378.35" y1="494.7" x2="384.95" y2="494.7" class="wc"/><rect x="374.8" y="482.7" width="13.7" height="8.2" fill="#f08c1c"/><line x1="374.8" y1="488" x2="388.5" y2="488" class="md" stroke="#4a2800"/><circle cx="379.55" cy="461.6" r="1.35" class="st"/><circle cx="384.55" cy="461.6" r="1.35" class="st"/><text x="380.2" y="523.5" class="xl" textLength="20.6" lengthAdjust="spacingAndGlyphs">HNSCC</text><text x="380.2" y="532.2" class="xl" textLength="23.4" lengthAdjust="spacingAndGlyphs">Grade 1</text><text x="380.2" y="540.6" class="xl" textLength="19.4" lengthAdjust="spacingAndGlyphs">(n=62)</text><line x1="409.25" y1="460.6" x2="409.25" y2="494.8" class="wh"/><line x1="405.95" y1="460.6" x2="412.55" y2="460.6" class="wc"/><line x1="405.95" y1="494.8" x2="412.55" y2="494.8" class="wc"/><rect x="402.5" y="480.5" width="13.5" height="9.9" fill="#b4d614"/><line x1="402.5" y1="486.5" x2="416" y2="486.5" class="md" stroke="#334000"/><circle cx="407.15" cy="454.4" r="1.35" class="st"/><circle cx="412.15" cy="454.4" r="1.35" class="st"/><text x="408.5" y="523.5" class="xl" textLength="20.6" lengthAdjust="spacingAndGlyphs">HNSCC</text><text x="408.5" y="532.2" class="xl" textLength="23.4" lengthAdjust="spacingAndGlyphs">Grade 2</text><text x="408.5" y="540.6" class="xl" textLength="23.2" lengthAdjust="spacingAndGlyphs">(n=303)</text><line x1="436.85" y1="430.3" x2="436.85" y2="494.8" class="wh"/><line x1="433.55" y1="430.3" x2="440.15" y2="430.3" class="wc"/><line x1="433.55" y1="494.8" x2="440.15" y2="494.8" class="wc"/><rect x="430.2" y="466.4" width="13.3" height="24.4" fill="#b07236"/><line x1="430.2" y1="484.3" x2="443.5" y2="484.3" class="md" stroke="#3a2410"/><circle cx="434.75" cy="424.1" r="1.35" class="st"/><circle cx="439.75" cy="424.1" r="1.35" class="st"/><text x="437.8" y="523.5" class="xl" textLength="20.6" lengthAdjust="spacingAndGlyphs">HNSCC</text><text x="437.8" y="532.2" class="xl" textLength="23.4" lengthAdjust="spacingAndGlyphs">Grade 3</text><text x="437.8" y="540.6" class="xl" textLength="23.2" lengthAdjust="spacingAndGlyphs">(n=125)</text><line x1="464.45" y1="461.8" x2="464.45" y2="487" class="wh"/><line x1="461.15" y1="461.8" x2="467.75" y2="461.8" class="wc"/><line x1="461.15" y1="487" x2="467.75" y2="487" class="wc"/><rect x="457.7" y="471.7" width="13.5" height="14.6" fill="#e020c4"/><line x1="457.7" y1="480" x2="471.2" y2="480" class="md" stroke="#4a0a42"/><circle cx="464.85" cy="456.1" r="1.35" class="st"/><text x="466.7" y="523.5" class="xl" textLength="20.6" lengthAdjust="spacingAndGlyphs">HNSCC</text><text x="466.7" y="532.2" class="xl" textLength="23.4" lengthAdjust="spacingAndGlyphs">Grade 4</text><text x="466.7" y="540.6" class="xl" textLength="15.6" lengthAdjust="spacingAndGlyphs">(n=7)</text></g>
</svg>
</body></html>
